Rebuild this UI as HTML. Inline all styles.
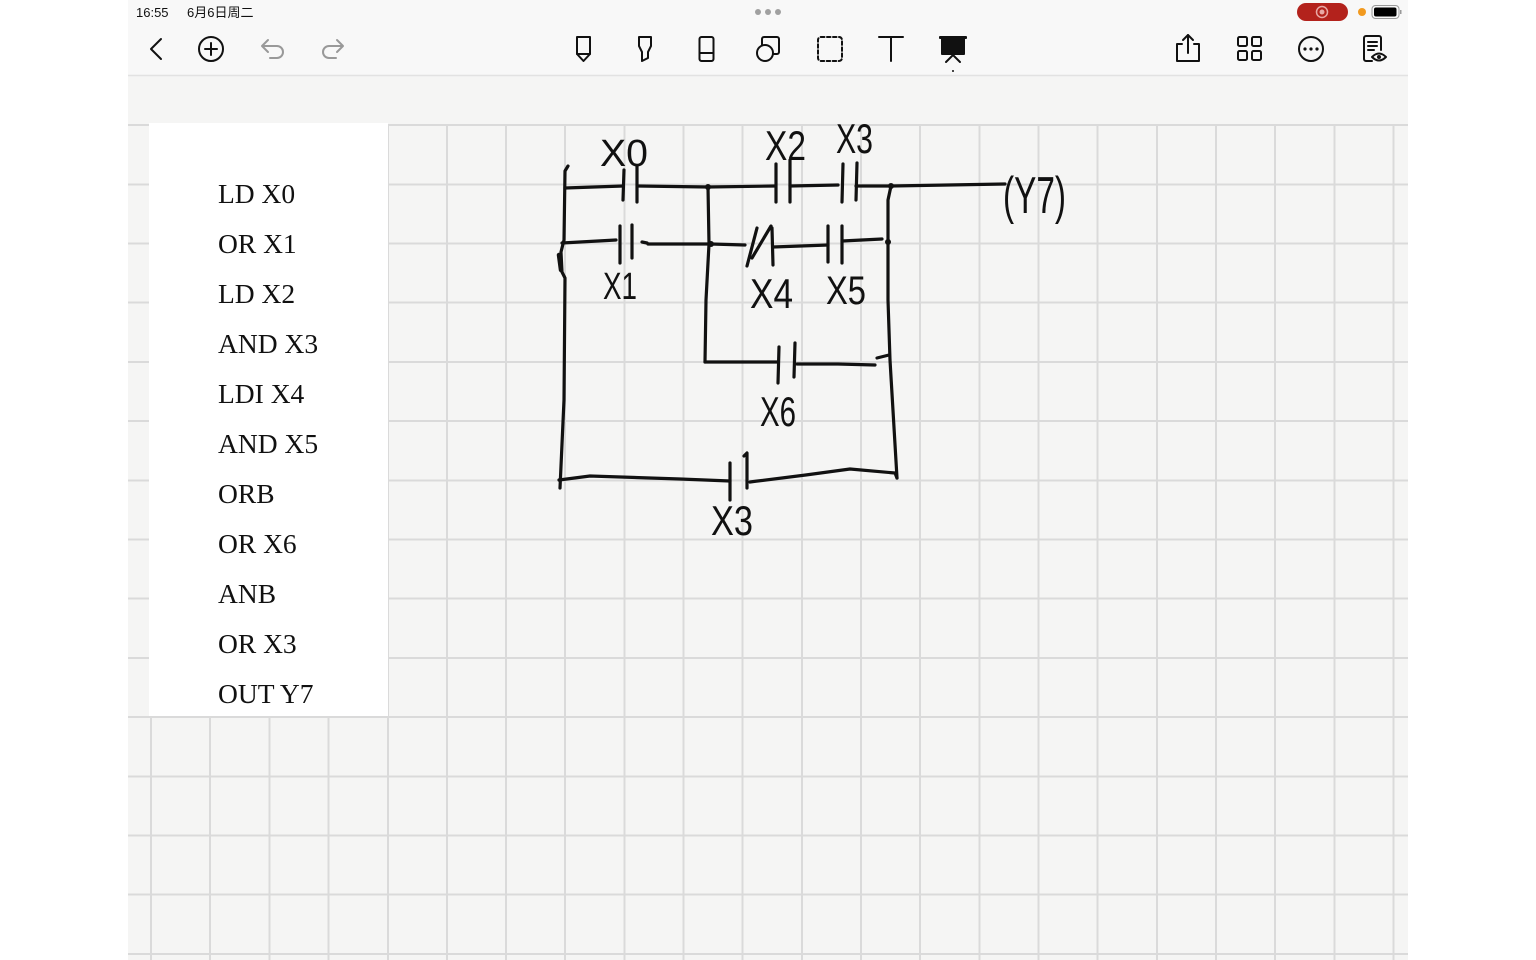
<!DOCTYPE html>
<html>
<head>
<meta charset="utf-8">
<style>
  html,body{margin:0;padding:0;background:#fff;}
  body{width:1536px;height:960px;overflow:hidden;position:relative;}
  svg{position:absolute;left:0;top:0;}
</style>
</head>
<body>
<svg width="1536" height="960" viewBox="0 0 1536 960" xmlns="http://www.w3.org/2000/svg">
  <!-- app area -->
  <rect x="128" y="0" width="1280" height="76" fill="#f8f8f8"/>
  <rect x="128" y="76" width="1280" height="884" fill="#f5f5f4"/>
  <line x1="128" y1="75.5" x2="1408" y2="75.5" stroke="#e2e2e2" stroke-width="1.5"/>

  <!-- grid -->
  <g stroke="#dadada" stroke-width="2">
    <line x1="151" y1="125" x2="151" y2="960"/>
    <line x1="210" y1="125" x2="210" y2="960"/>
    <line x1="269.5" y1="125" x2="269.5" y2="960"/>
    <line x1="328.5" y1="125" x2="328.5" y2="960"/>
    <line x1="388" y1="125" x2="388" y2="960"/>
    <line x1="447" y1="125" x2="447" y2="960"/>
    <line x1="506" y1="125" x2="506" y2="960"/>
    <line x1="565" y1="125" x2="565" y2="960"/>
    <line x1="624.5" y1="125" x2="624.5" y2="960"/>
    <line x1="683.5" y1="125" x2="683.5" y2="960"/>
    <line x1="742.5" y1="125" x2="742.5" y2="960"/>
    <line x1="802" y1="125" x2="802" y2="960"/>
    <line x1="861" y1="125" x2="861" y2="960"/>
    <line x1="920" y1="125" x2="920" y2="960"/>
    <line x1="979.5" y1="125" x2="979.5" y2="960"/>
    <line x1="1038.5" y1="125" x2="1038.5" y2="960"/>
    <line x1="1097.5" y1="125" x2="1097.5" y2="960"/>
    <line x1="1157" y1="125" x2="1157" y2="960"/>
    <line x1="1216" y1="125" x2="1216" y2="960"/>
    <line x1="1275" y1="125" x2="1275" y2="960"/>
    <line x1="1334.5" y1="125" x2="1334.5" y2="960"/>
    <line x1="1393.5" y1="125" x2="1393.5" y2="960"/>
    <line x1="128" y1="125" x2="1408" y2="125"/>
    <line x1="128" y1="184.5" x2="1408" y2="184.5"/>
    <line x1="128" y1="243.5" x2="1408" y2="243.5"/>
    <line x1="128" y1="302.5" x2="1408" y2="302.5"/>
    <line x1="128" y1="362" x2="1408" y2="362"/>
    <line x1="128" y1="421" x2="1408" y2="421"/>
    <line x1="128" y1="480.5" x2="1408" y2="480.5"/>
    <line x1="128" y1="539.5" x2="1408" y2="539.5"/>
    <line x1="128" y1="598.5" x2="1408" y2="598.5"/>
    <line x1="128" y1="658" x2="1408" y2="658"/>
    <line x1="128" y1="717" x2="1408" y2="717"/>
    <line x1="128" y1="776.5" x2="1408" y2="776.5"/>
    <line x1="128" y1="835.5" x2="1408" y2="835.5"/>
    <line x1="128" y1="894.5" x2="1408" y2="894.5"/>
    <line x1="128" y1="954" x2="1408" y2="954"/>
  </g>

  <!-- white instruction box -->
  <rect x="149" y="123" width="239" height="593" fill="#ffffff"/>
  <g font-family="'Liberation Serif', serif" font-size="27.5" fill="#111">
    <text x="218" y="203">LD X0</text>
    <text x="218" y="253">OR X1</text>
    <text x="218" y="303">LD X2</text>
    <text x="218" y="353">AND X3</text>
    <text x="218" y="403">LDI X4</text>
    <text x="218" y="453">AND X5</text>
    <text x="218" y="503">ORB</text>
    <text x="218" y="553">OR X6</text>
    <text x="218" y="603">ANB</text>
    <text x="218" y="653">OR X3</text>
    <text x="218" y="703">OUT Y7</text>
  </g>

  <!-- status bar -->
  <text x="136" y="17" font-family="'Liberation Sans', sans-serif" font-size="13" fill="#111">16:55</text>
  <text x="187" y="17" font-family="'Liberation Sans','Noto Sans CJK SC', sans-serif" font-size="13" fill="#111">6月6日周二</text>
  <g fill="#a0a0a0">
    <circle cx="758" cy="12" r="3"/><circle cx="768" cy="12" r="3"/><circle cx="778" cy="12" r="3"/>
  </g>
  <rect x="1297" y="3" width="51" height="18" rx="9" fill="#b3221c"/>
  <circle cx="1322" cy="12" r="5.5" fill="none" stroke="#e9a9a6" stroke-width="1.5"/>
  <circle cx="1322" cy="12" r="2.5" fill="#e9a9a6"/>
  <circle cx="1362" cy="12" r="4" fill="#f29a1f"/>
  <rect x="1372" y="5.5" width="27" height="13" rx="3.5" fill="none" stroke="#9a9a9a" stroke-width="1"/>
  <rect x="1374" y="7.5" width="22.5" height="9" rx="2" fill="#000"/>
  <rect x="1400" y="10" width="1.5" height="4" fill="#9a9a9a"/>

  <!-- toolbar icons -->
  <g fill="none" stroke="#111" stroke-width="2" stroke-linecap="round" stroke-linejoin="round">
    <polyline points="161,39 151,49 161,59"/>
    <circle cx="211" cy="49" r="12"/>
    <line x1="205" y1="49" x2="217" y2="49"/><line x1="211" y1="43" x2="211" y2="55"/>
  </g>
  <g fill="none" stroke="#999" stroke-width="2" stroke-linecap="round" stroke-linejoin="round">
    <path d="M263,46 H277 A6,6 0 0 1 277,58 H270"/>
    <polyline points="268,40 262,46 268,52"/>
    <path d="M342,46 H329 A6,6 0 0 0 329,58 H336"/>
    <polyline points="337,40 343,46 337,52"/>
  </g>
  <g fill="none" stroke="#111" stroke-width="2" stroke-linecap="round" stroke-linejoin="round">
    <!-- pen -->
    <path d="M577,37 H590 V54 L583.5,61 L577,54 Z"/>
    <line x1="577" y1="54" x2="590" y2="54"/>
    <!-- marker -->
    <path d="M639,37 H651 V46 L648,52 V58 L642,61 V52 L639,46 Z"/>
    <!-- eraser -->
    <rect x="699.5" y="37" width="14" height="24" rx="2"/>
    <line x1="699.5" y1="53" x2="713.5" y2="53"/>
    <!-- shapes -->
    <circle cx="765" cy="53" r="8"/>
    <path d="M762,45 V39 A2,2 0 0 1 764,37 H777 A2,2 0 0 1 779,39 V52 A2,2 0 0 1 777,54 H773"/>
    <!-- lasso -->
    <rect x="818" y="37" width="24" height="24" rx="3" stroke-dasharray="3.5 2.5"/>
    <!-- text -->
    <line x1="879" y1="37" x2="903" y2="37"/>
    <line x1="891" y1="37" x2="891" y2="61"/>
    <!-- share -->
    <path d="M1182,44 H1177 V61 H1199 V44 H1194"/>
    <line x1="1188" y1="53" x2="1188" y2="35"/>
    <polyline points="1183,40 1188,35 1193,40"/>
    <!-- grid -->
    <rect x="1238" y="37" width="9" height="9" rx="1.5"/>
    <rect x="1252" y="37" width="9" height="9" rx="1.5"/>
    <rect x="1238" y="51" width="9" height="9" rx="1.5"/>
    <rect x="1252" y="51" width="9" height="9" rx="1.5"/>
    <!-- more -->
    <circle cx="1311" cy="49" r="12"/>
    <!-- doc eye -->
    <path d="M1372,61 H1366 A2,2 0 0 1 1364,59 V38 A2,2 0 0 1 1366,36 H1379 A2,2 0 0 1 1381,38 V50"/>
    <line x1="1368" y1="42" x2="1377" y2="42"/>
    <line x1="1368" y1="46" x2="1377" y2="46"/>
    <line x1="1368" y1="50" x2="1374" y2="50"/>
    <path d="M1372,57 Q1379,50 1386,57 Q1379,64 1372,57 Z" fill="#f8f8f8"/>
  </g>
  <g fill="#111">
    <circle cx="1305" cy="49" r="1.6"/><circle cx="1311" cy="49" r="1.6"/><circle cx="1317" cy="49" r="1.6"/>
    <circle cx="1379" cy="57" r="2"/>
    <!-- presentation filled -->
    <rect x="939" y="36" width="28" height="3" rx="1"/>
    <rect x="941" y="37" width="24" height="18" rx="1"/>
    <circle cx="953" cy="71" r="1"/>
  </g>
  <g fill="none" stroke="#111" stroke-width="2" stroke-linecap="round">
    <polyline points="946,62 953,55 960,62"/>
  </g>

  <!-- ladder diagram -->
  <g fill="none" stroke="#111" stroke-width="3.2" stroke-linecap="round" stroke-linejoin="round">
    <!-- left rail -->
    <path d="M568,166 L565,171 L564,240 L561,252 L562,272 L565,278 L564,400 L560,488"/>
    <path d="M559,255 L561,270" stroke-width="4.5"/>
    <!-- row 1 -->
    <path d="M565,188 L623,186"/>
    <path d="M624,170 L623,200"/>
    <path d="M637,166 L637,202"/>
    <path d="M638,186 L708,187 L775,186"/>
    <path d="M776,164 L776,202"/>
    <path d="M790,160 L790,202"/>
    <path d="M790,186 L838,185"/>
    <path d="M843,164 L842,202"/>
    <path d="M857,163 L856,200"/>
    <path d="M856,186 L891,186 L1005,184"/>
    <!-- row 2 -->
    <path d="M562,243 L616,240"/>
    <path d="M620,226 L620,263"/>
    <path d="M632,225 L632,258"/>
    <path d="M642,242 L647,243"/>
    <path d="M648,244 L711,244 L745,245"/>
    <path d="M747,266 L757,228"/>
    <path d="M752,258 L771,226"/>
    <path d="M772,228 L773,265"/>
    <path d="M773,247 L828,245"/>
    <path d="M828,226 L828,262"/>
    <path d="M842,226 L842,263"/>
    <path d="M842,241 L882,239"/>
    <!-- middle vertical -->
    <path d="M708,187 L709,244 L706,300 L705,362"/>
    <!-- row 3 -->
    <path d="M705,362 L778,362"/>
    <path d="M779,347 L778,383"/>
    <path d="M795,343 L794,377"/>
    <path d="M797,364 L838,364 L875,365"/>
    <path d="M877,358 L889,355"/>
    <!-- right vertical -->
    <path d="M891,186 L888,200 L888,242 L888,300 L890,360 L897,478"/>
    <!-- row 4 -->
    <path d="M559,480 L590,476 L680,479 L730,481"/>
    <path d="M730,463 L730,500"/>
    <path d="M744,456 L747,453 L747,488"/>
    <path d="M750,482 Q800,476 850,469 L895,473 L897,478"/>
  </g>
  <g fill="#111">
    <circle cx="708" cy="187" r="3"/>
    <circle cx="891" cy="186" r="3"/>
    <circle cx="711" cy="244" r="3"/>
    <circle cx="888" cy="242" r="3"/>
  </g>

  <!-- handwritten labels -->
  <g font-family="'Liberation Sans', sans-serif" fill="#111" lengthAdjust="spacingAndGlyphs">
    <text x="600" y="166" font-size="38" textLength="48" lengthAdjust="spacingAndGlyphs">X0</text>
    <text x="765" y="160" font-size="42" textLength="41" lengthAdjust="spacingAndGlyphs">X2</text>
    <text x="836" y="153" font-size="42" textLength="37" lengthAdjust="spacingAndGlyphs">X3</text>
    <text x="603" y="299" font-size="38" textLength="34" lengthAdjust="spacingAndGlyphs">X1</text>
    <text x="750" y="308" font-size="42" textLength="43" lengthAdjust="spacingAndGlyphs">X4</text>
    <text x="826" y="304" font-size="40" textLength="40" lengthAdjust="spacingAndGlyphs">X5</text>
    <text x="760" y="426" font-size="42" textLength="36" lengthAdjust="spacingAndGlyphs">X6</text>
    <text x="711" y="535" font-size="42" textLength="42" lengthAdjust="spacingAndGlyphs">X3</text>
    <text x="1003" y="213" font-size="52" textLength="63" lengthAdjust="spacingAndGlyphs">(Y7)</text>
  </g>
</svg>
</body>
</html>
